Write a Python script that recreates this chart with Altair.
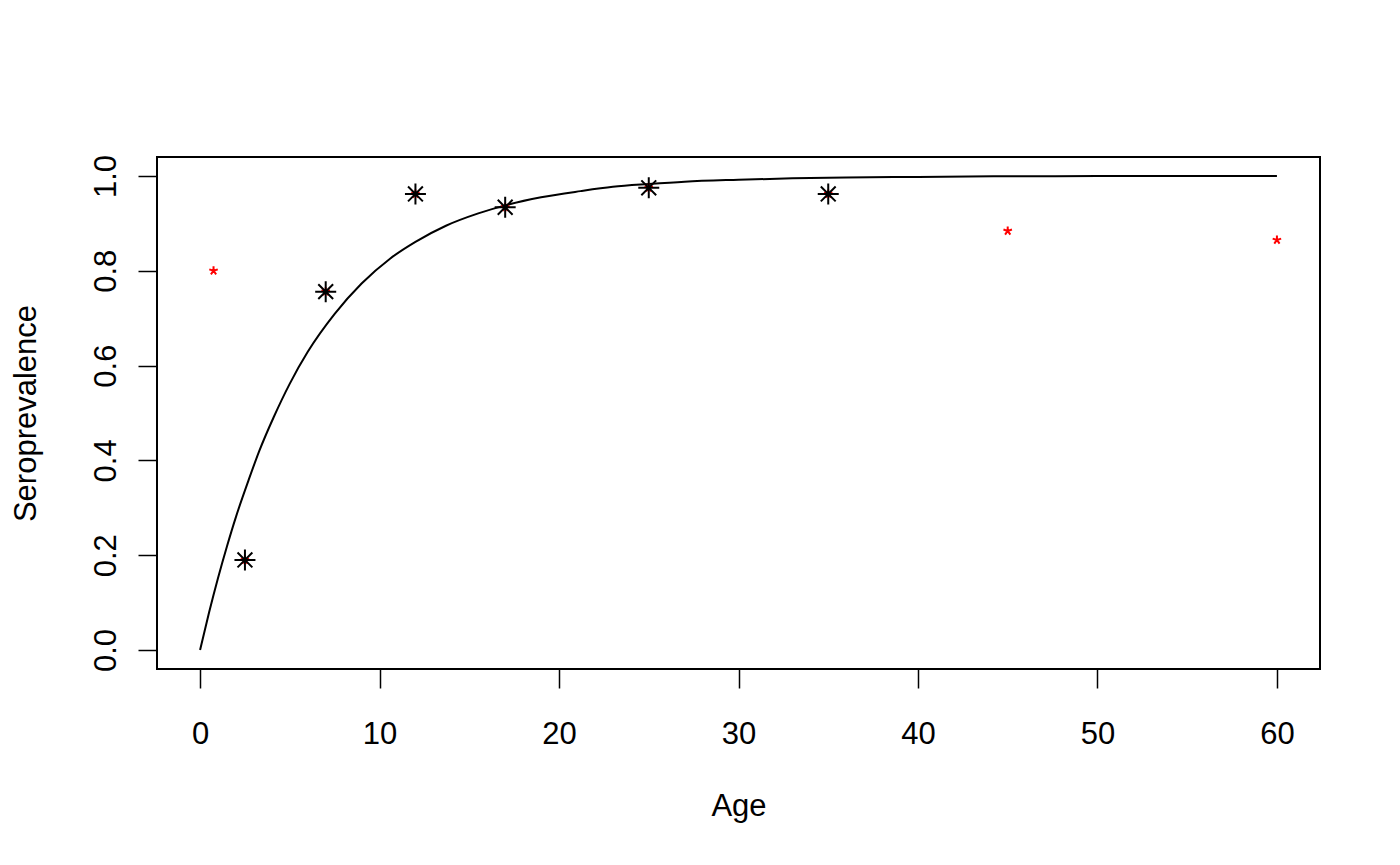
import altair as alt
import pandas as pd

# observed seroprevalence by age group
obs_age = [0.75, 2.5, 7, 12, 17, 25, 35, 45, 60]
obs_prev = [0.800, 0.190, 0.756, 0.962, 0.934, 0.975, 0.962, 0.884, 0.865]

# groups highlighted with a black asterisk
hl_age = [2.5, 7, 12, 17, 25, 35]
hl_prev = [0.190, 0.756, 0.962, 0.934, 0.975, 0.962]

# fitted curve
fit_age = [0, 0.5, 1.0, 1.5, 2.0, 2.7, 3.3, 4.1, 5.0, 6.0, 7.5, 9.0, 10.6,
           12.0, 13.7, 15.5, 17.0, 19.0, 21.2, 23.0, 25.0, 27.0, 30.0, 33.0,
           36.0, 40.0, 45.0, 50.0, 55.0, 60.0]
fit_prev = [0.0, 0.079, 0.152, 0.219, 0.281, 0.358, 0.420, 0.491, 0.562, 0.629,
            0.709, 0.773, 0.826, 0.861, 0.895, 0.921, 0.938, 0.955, 0.968, 0.977,
            0.983, 0.988, 0.992, 0.995, 0.997, 0.998, 0.9993, 0.9997, 1.0, 1.0]

x_ticks = [0, 10, 20, 30, 40, 50, 60]
y_ticks = [0.0, 0.2, 0.4, 0.6, 0.8, 1.0]

FONT = "Liberation Sans"
FS = 31

obs = pd.DataFrame({"age": obs_age, "prev": obs_prev})
hl = pd.DataFrame({"age": hl_age, "prev": hl_prev})
fit = pd.DataFrame({"age": fit_age, "prev": fit_prev})

x_enc = alt.X(
    "age:Q",
    scale=alt.Scale(domain=[-2.4, 62.4], nice=False, zero=False),
    axis=alt.Axis(
        values=x_ticks, title="Age", domain=False, grid=False,
        tickSize=19, tickWidth=1.5, tickColor="black",
        labelFont=FONT, labelFontSize=FS, labelColor="black",
        labelBaseline="alphabetic", labelPadding=55, labelFlush=False,
        titleFont=FONT, titleFontSize=FS, titleFontWeight="normal", titleColor="black",
        titleBaseline="alphabetic", titleY=146,
    ),
)
y_enc = alt.Y(
    "prev:Q",
    scale=alt.Scale(domain=[-0.04, 1.04], nice=False, zero=False),
    axis=alt.Axis(
        values=y_ticks, format=".1f", title="Seroprevalence", domain=False, grid=False,
        tickSize=19, tickWidth=1.5, tickColor="black",
        labelFont=FONT, labelFontSize=FS, labelColor="black",
        labelAngle=270, labelAlign="center", labelBaseline="alphabetic",
        labelPadding=23, labelFlush=False,
        titleFont=FONT, titleFontSize=FS, titleFontWeight="normal", titleColor="black",
        titleAngle=270, titleAlign="center", titleBaseline="alphabetic",
        titleX=-122, titleY=256,
    ),
)

curve = alt.Chart(fit).mark_line(color="black", strokeWidth=2, interpolate="monotone").encode(
    x=x_enc, y=y_enc
)

star5 = "M0,0L0,-1M0,0L0.951,-0.309M0,0L-0.951,-0.309M0,0L0.588,0.809M0,0L-0.588,0.809"
red_pts = alt.Chart(obs).mark_point(
    shape=star5, size=80, stroke="red", strokeWidth=2, filled=False, opacity=1
).encode(x="age:Q", y="prev:Q")

ast = "M-1,0L1,0M0,-1L0,1M-0.707,-0.707L0.707,0.707M-0.707,0.707L0.707,-0.707"
black_pts = alt.Chart(hl).mark_point(
    shape=ast, size=441, stroke="black", strokeWidth=2, filled=False, opacity=1
).encode(x="age:Q", y="prev:Q")

chart = alt.layer(curve, red_pts, black_pts).properties(
    width=1163,
    height=512,
    autosize=alt.AutoSizeParams(type="none"),
    padding={"left": 149, "top": 149, "right": 72, "bottom": 188},
    background="white",
).configure_view(stroke="black", strokeWidth=2)

chart.save("out.html", embed_options={"renderer": "svg", "actions": False})
